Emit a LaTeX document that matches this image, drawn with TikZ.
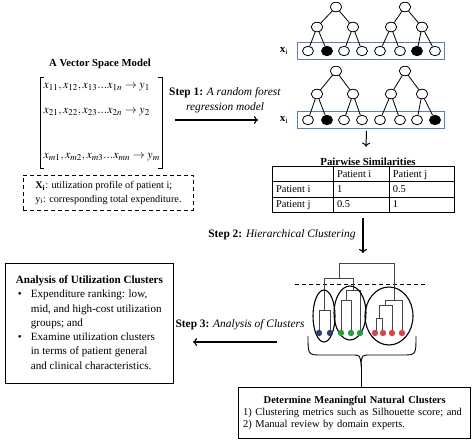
\documentclass[tikz,border=0pt]{standalone}
\usepackage{mathptmx}
\usepackage{fontspec}
\setmainfont{Liberation Serif}
\usepackage{array}
\definecolor{forestblue}{RGB}{96,124,176}
\definecolor{clblue}{RGB}{48,62,112}
\definecolor{clgreen}{RGB}{34,160,62}
\definecolor{clred}{RGB}{208,72,72}
\definecolor{dendgray}{RGB}{70,70,70}
\usetikzlibrary{positioning}
\usetikzlibrary{shapes.geometric}
\usetikzlibrary{arrows.meta}

\tikzset{
  tnode/.style={draw, ellipse, line width=0.8pt, minimum width=11.5pt, minimum height=9.5pt, inner sep=0pt, fill=white},
  tleaf/.style={tnode, minimum width=11pt},
  treebox/.style={draw=forestblue, line width=1pt, minimum width=147pt, minimum height=17pt, inner sep=0pt},
  steparrow/.style={-{To[length=4pt, width=8pt]}, line width=1.2pt},
  steplabel/.style={font=\fontsize{11.4}{15}\selectfont},
  dend/.style={draw=dendgray, line width=0.8pt},
  clust/.style={draw, line width=1.1pt},
  mrow/.style={anchor=west, font=\fontsize{12}{14}\selectfont},
}

\begin{document}
\begin{tikzpicture}[x=1pt, y=-1pt]
  \useasboundingbox (0,0) rectangle (474,445);

  % vector space model
  \node[font=\fontsize{10.7}{13}\selectfont\bfseries] (vsm) at (100,64) {A Vector Space Model};
  \node[mrow] (row1) at (40,87) {$x_{11},x_{12},x_{13}{...}x_{1n}\rightarrow y_1$};
  \node[mrow] (row2) at (40,112) {$x_{21},x_{22},x_{23}{...}x_{2n}\rightarrow y_2$};
  \node[mrow] (rowm) at (40,157) {$x_{m1},x_{m2},x_{m3}{...}x_{mn}\rightarrow y_m$};
  \draw[line width=0.9pt] (44,77) -- (40,77) -- (40,168) -- (44,168);
  \draw[line width=0.9pt] (158,77) -- (162,77) -- (162,168) -- (158,168);
  \node[draw, dashed, line width=0.9pt, dash pattern=on 4pt off 3pt, align=left, anchor=north west,
        minimum width=170pt, minimum height=35pt, inner xsep=3pt, font=\fontsize{10.2}{13.5}\selectfont] (legend) at (23,175)
        {\textbf{X}\textsubscript{\textbf{i}}: utilization profile of patient i;\\y\textsubscript{i}: corresponding total expenditure.};

  % step 1
  \coordinate (s1a) at (175,120);
  \coordinate (s1b) at (258,120);
  \draw[steparrow] (s1a) -- (s1b);
  \node[steplabel, align=center] (step1) at (225,100) {\textbf{Step 1:} \textit{A random forest}\\\textit{regression model}};

  % random forest
  \foreach \r/\yt/\ym/\yl/\ba/\bb in {a/7/27/51/2/7, b/71/94/120/2/8}{
    \node[treebox] (box\r) at (370.5,\yl) {};
    \node[font=\fontsize{11}{13}\selectfont] (x\r) at (284,\yl) {\textbf{x}\textsubscript{i}};
    \foreach \k/\x in {1/336,2/405}
      \node[tnode] (\r t\k) at (\x,\yt) {};
    \foreach \k/\x in {1/317,2/353,3/391,4/422}
      \node[tnode] (\r m\k) at (\x,\ym) {};
    \foreach \k/\x in {1/308,2/327,3/344,4/362,5/380,6/400,7/417,8/435}{
      \pgfmathsetmacro\lfill{(\k==\ba || \k==\bb) ? "black" : "white"}
      \node[tleaf, fill=\lfill] (\r l\k) at (\x,\yl) {};
    }
    \draw[line width=0.8pt] (\r t1) -- (\r m1) (\r t1) -- (\r m2) (\r t2) -- (\r m3) (\r t2) -- (\r m4);
    \foreach \k in {1,...,4}{
      \pgfmathtruncatemacro\la{2*\k-1}
      \pgfmathtruncatemacro\lb{2*\k}
      \draw[line width=0.8pt] (\r m\k) -- (\r l\la) (\r m\k) -- (\r l\lb);
    }
  }

  % pairwise similarities
  \node[font=\fontsize{10.8}{13}\selectfont\bfseries] (pw) at (368,162) {Pairwise Similarities};
  \draw[steparrow, line width=1pt] ([xshift=-4pt,yshift=-2pt]boxb.south) -- ([xshift=-2pt,yshift=8pt]pw.north);
  \node[inner sep=0pt, font=\fontsize{10.4}{12}\selectfont] (sim) at (363.5,189.5)
    {\setlength\arrayrulewidth{0.9pt}\setlength\tabcolsep{3pt}\renewcommand\arraystretch{1.2}%
     \begin{tabular}{|p{54pt}|p{49pt}|p{58pt}|}\hline
       & Patient i & Patient j\\\hline
       Patient i & 1 & 0.5\\\hline
       Patient j & 0.5 & 1\\\hline
     \end{tabular}};

  % step 2
  \coordinate (dtop) at (363,253);
  \draw[steparrow] ([yshift=-5pt]sim.south -| dtop) -- (dtop);
  \node[steplabel, anchor=east] (step2) at (359,235) {\textbf{Step 2:} \textit{Hierarchical Clustering}};

  % dendrogram
  \draw[dashed, line width=1pt, dash pattern=on 4pt off 3pt] (295,284) -- (428,284);
  \draw[dend] (319,333) -- (319,310) -- (330,310) -- (330,333);
  \draw[dend] (341,333) -- (341,300) -- (351,300) -- (351,333);
  \draw[dend] (346,300) -- (346,290) -- (360,290) -- (360,333);
  \draw[dend] (324.5,310) -- (324.5,278) -- (353,278) -- (353,290);
  \draw[dend] (376,333) -- (376,318) -- (382,318) -- (382,333);
  \draw[dend] (379,318) -- (379,305) -- (392,305) -- (392,333);
  \draw[dend] (385.5,305) -- (385.5,300) -- (402,300) -- (402,333);
  \draw[dend] (339,278) -- (339,263) -- (394,263) -- (394,300);
  \draw[clust] (324,316) ellipse [x radius=11pt, y radius=26pt];
  \draw[clust] (350,313) ellipse [x radius=16pt, y radius=27pt];
  \draw[clust] (389,316) ellipse [x radius=24pt, y radius=29pt];
  \foreach \x in {319,330} \fill[clblue] (\x,333) circle [radius=3.2pt];
  \foreach \x in {341,351,360} \fill[clgreen] (\x,333) circle [radius=3.2pt];
  \foreach \x in {375,383,392,402} \fill[clred] (\x,333) circle [radius=3.2pt];
  \draw[line width=0.9pt] (308,336) .. controls (308,355) .. (322,355) -- (352,355)
    .. controls (360,355) .. (361,364) coordinate (btip) .. controls (362,355) .. (370,355)
    -- (402,355) .. controls (416,355) .. (416,336);

  % step 3
  \coordinate (s3a) at (277,342);
  \coordinate (s3b) at (193,342);
  \draw[steparrow] (s3a) -- (s3b);
  \node[steplabel] (step3) at (240,325) {\textbf{Step 3:} \textit{Analysis of Clusters}};

  % analysis box
  \node[draw, line width=0.9pt, anchor=north west, minimum width=168pt, minimum height=120pt, inner xsep=6pt,
        font=\fontsize{11.1}{14.3}\selectfont] (uc) at (5,263)
    {\setlength\tabcolsep{0pt}%
     \begin{tabular}{@{\hspace{2pt}}p{13pt}l@{}}
       \multicolumn{2}{@{}l@{}}{\textbf{Analysis of Utilization Clusters}}\\
       \textbullet & Expenditure ranking: low,\\
                   & mid, and high-cost utilization\\
                   & groups; and\\
       \textbullet & Examine utilization clusters\\
                   & in terms of patient general\\
                   & and clinical characteristics.
     \end{tabular}};

  % natural clusters box
  \node[draw, line width=1.4pt, anchor=north west, text width=223pt, minimum height=51pt, inner xsep=4.5pt,
        align=left, font=\fontsize{10.5}{12}\selectfont] (det) at (238,387)
    {\makebox[223pt][c]{\textbf{Determine Meaningful Natural Clusters}}\\
     1) Clustering metrics such as Silhouette score; and\\
     2) Manual review by domain experts.};
  \draw[line width=0.9pt] (btip) -- (btip |- det.north);
\end{tikzpicture}
\end{document}
